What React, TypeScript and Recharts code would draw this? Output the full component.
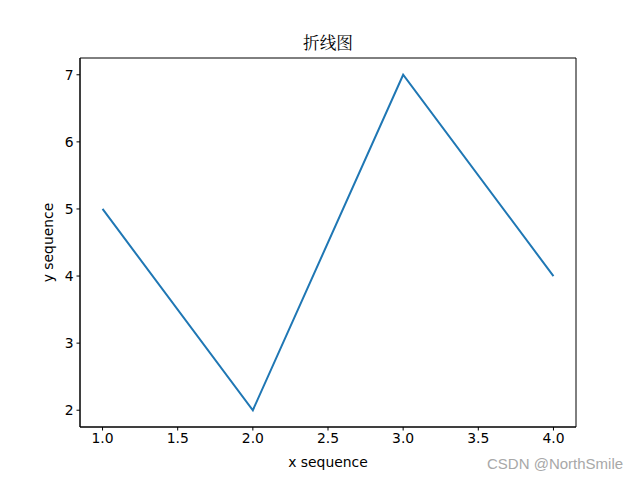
import React from 'react';
import { LineChart, Line, XAxis, YAxis, ReferenceArea } from 'recharts';

const xValues = [1, 2, 3, 4];
const yValues = [5, 2, 7, 4];
const xTicks = [1.0, 1.5, 2.0, 2.5, 3.0, 3.5, 4.0];
const yTicks = [2, 3, 4, 5, 6, 7];
const title = '折线图';
const xLabel = 'x sequence';
const yLabel = 'y sequence';
const watermark = 'CSDN @NorthSmile';

const data = xValues.map((x, i) => ({ x, y: yValues[i] }));

const FONT = '"DejaVu Sans", sans-serif';
const FS = 13.9;

export default function App() {
  return (
    <div style={{ position: 'absolute', left: 0, top: 0, width: 640, height: 480, background: '#fff' }}>
      <LineChart width={640} height={480} data={data} margin={{ top: 58, right: 64, bottom: 0, left: 0 }}>
        <XAxis
          dataKey="x"
          type="number"
          domain={[0.85, 4.15]}
          ticks={xTicks}
          tickFormatter={(v: number) => v.toFixed(1)}
          height={53}
          tickSize={3.5}
          tickMargin={3}
          stroke="#000"
          tick={{ fill: '#000', fontSize: FS, fontFamily: FONT }}
          allowDataOverflow
          label={{
            content: (p: any) => {
              const vb = p.viewBox;
              return (
                <text x={vb.x + vb.width / 2} y={467} textAnchor="middle" fontSize={FS} fontFamily={FONT} fill="#000">
                  {xLabel}
                </text>
              );
            },
          }}
        />
        <YAxis
          dataKey="y"
          type="number"
          domain={[1.75, 7.25]}
          ticks={yTicks}
          width={80}
          tickSize={3.5}
          tickMargin={3}
          stroke="#000"
          tick={{ fill: '#000', fontSize: FS, fontFamily: FONT }}
          allowDataOverflow
          label={{
            content: (p: any) => {
              const vb = p.viewBox;
              const cy = vb.y + vb.height / 2;
              return (
                <text x={53} y={cy} transform={`rotate(-90 53 ${cy})`} textAnchor="middle" fontSize={FS} fontFamily={FONT} fill="#000">
                  {yLabel}
                </text>
              );
            },
          }}
        />
        <ReferenceArea x1={0.85} x2={4.15} y1={1.75} y2={7.25} fill="none" stroke="#000" strokeWidth={1} ifOverflow="visible" />
        <Line dataKey="y" stroke="#1f77b4" strokeWidth={2} dot={false} isAnimationActive={false} />
        <text x={328} y={49} textAnchor="middle" fontSize={16.7} fontFamily='"Noto Serif CJK SC", "Noto Sans CJK SC", serif' fill="#000">
          {title}
        </text>
      </LineChart>
      <div style={{ position: 'absolute', left: 487, top: 455, fontFamily: '"Liberation Sans", Arial, sans-serif', fontSize: 15, color: '#a8a8a8', whiteSpace: 'nowrap' }}>
        {watermark}
      </div>
    </div>
  );
}
